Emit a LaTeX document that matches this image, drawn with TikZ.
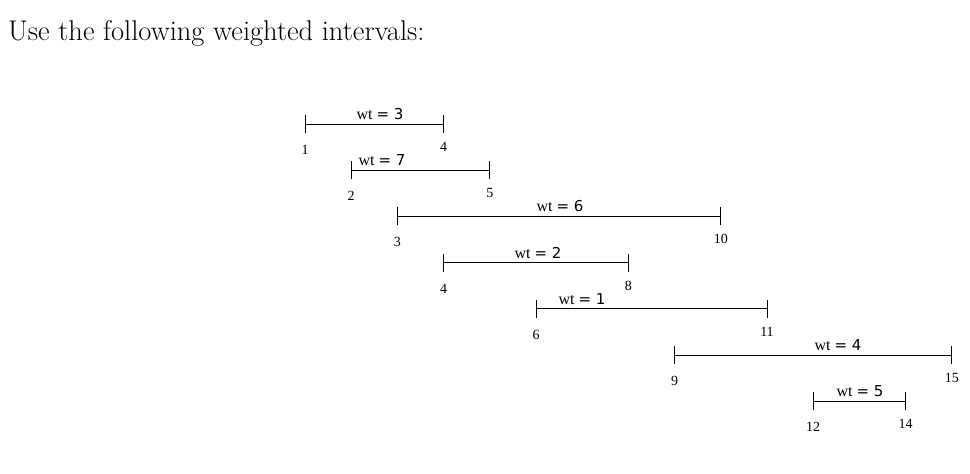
\documentclass[tikz,border=0pt]{standalone}
\usepackage{fontspec}
\newfontfamily\lab{Liberation Serif}
\newfontfamily\labs{DejaVu Sans}
\begin{document}
\begin{tikzpicture}[x=1pt,y=-1pt,
  ivl/.style={line width=0.9pt},
  num/.style={font=\lab\fontsize{14}{16}\selectfont, inner sep=0pt},
  wtl/.style={font=\lab\fontsize{16}{18}\selectfont, inner sep=0pt, anchor=south}]
\useasboundingbox (0,0) rectangle (970,474);
\node[anchor=west, inner sep=0pt, font=\fontsize{28.5}{32}\selectfont] (title) at (8,33) {Use the following weighted intervals:};
\def\ux#1{305+(#1-1)*46.2}
\foreach \a/\b/\w/\lx/\r in {1/4/3/380/0,2/5/7/382/1,3/10/6/560/2,4/8/2/538/3,6/11/1/582/4,9/15/4/838/5,12/14/5/860/6}{
  \pgfmathsetmacro\xa{\ux{\a}}
  \pgfmathsetmacro\xb{\ux{\b}}
  \pgfmathsetmacro\yy{124+\r*46.2}
  \coordinate (s\r) at (\xa,\yy);
  \coordinate (e\r) at (\xb,\yy);
  \draw[ivl] (s\r) -- (e\r);
  \draw[ivl] ([yshift=-9pt]s\r) -- ([yshift=9pt]s\r);
  \draw[ivl] ([yshift=-9pt]e\r) -- ([yshift=9pt]e\r);
  \node[num] (ls\r) at ([yshift=-26pt]s\r) {\a};
  \node[num] (le\r) at ([yshift=-23pt]e\r) {\b};
  \node[wtl] (w\r) at (\lx,\yy-4) {wt {\labs\fontsize{15}{17}\selectfont= \w}};
}
\end{tikzpicture}
\end{document}
